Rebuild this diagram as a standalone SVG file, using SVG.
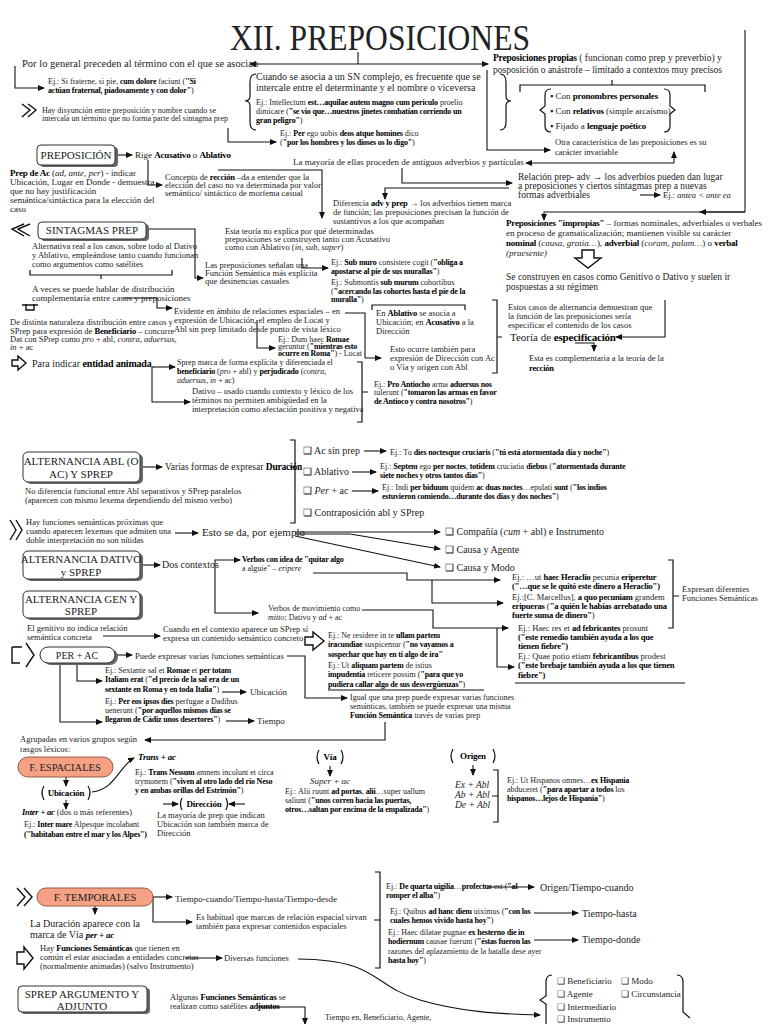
<svg xmlns="http://www.w3.org/2000/svg" width="768" height="1024" viewBox="0 0 768 1024">
<defs>
<marker id="a" markerWidth="7" markerHeight="6" refX="6" refY="3" orient="auto" markerUnits="userSpaceOnUse"><path d="M0,0 L7,3 L0,6 Z" fill="#111"/></marker>
<style>
text{font-family:'Liberation Serif','Times New Roman',serif;fill:#222}
.f8{font-size:8px}.f85{font-size:8.5px}.f9{font-size:9px}.f95{font-size:9.5px}.f10{font-size:10px}.f105{font-size:10.5px}.f11{font-size:11px}.f12{font-size:12px}
.b{font-weight:bold;fill:#000;letter-spacing:-0.2px}.i{font-style:italic}
.ln{fill:none;stroke:#111;stroke-width:1.1}
.ar{fill:none;stroke:#111;stroke-width:1.1;marker-end:url(#a)}
.br{fill:none;stroke:#111;stroke-width:1.2}
.bx{fill:#fff;stroke:#333;stroke-width:1}
.sh{fill:#666}
.pill{fill:#f4a184;stroke:#9a5a45;stroke-width:1}
.ic{fill:#fff;stroke:#111;stroke-width:1.4}
.c{text-anchor:middle}
</style>
</defs>
<rect width="768" height="1024" fill="#fff"/>

<g id="title"><text x="230" y="50" textLength="300" lengthAdjust="spacingAndGlyphs" style="font-size:36px">XII. PREPOSICIONES</text></g>

<g id="connectors">
<path class="ln" d="M358,52 V64"/>
<path class="ar" d="M358,64 H250"/>
<path class="ar" d="M358,64 H488"/>
<path class="ar" d="M15,66 V88 H44"/>
<path class="ar" d="M228,128 V142 H276"/>
<path class="ar" d="M487,70 V150 H550"/>
<path class="br" d="M520,92 V85 H705 V92 M612,85 V80"/>
<path class="ar" d="M115,155 H132"/>
<path class="ar" d="M148,160 V185 H162"/>
<path class="ar" d="M674,163 V152"/>
<path class="ar" d="M674,163 H526"/>
<path class="ar" d="M402,168 V183 H512"/>
<path class="ar" d="M509,188 H385 V199"/>
<path class="ar" d="M218,170 H322 V218"/>
<path class="ar" d="M640,195 H660"/>
<path class="ln" d="M745,30 V212"/>
<path class="ar" d="M745,212 H700"/>
<path class="ar" d="M745,212 H544 V220"/>
<path class="ar" d="M147,229 H195 V278 H203"/>
<path class="ar" d="M302,258 V268 H328"/>
<path class="br" d="M30,270 V275 H172 V270 M101,275 V279"/>
<path class="ar" d="M123,298 H157 V308 H172"/>
<path class="br" d="M372,310 V305 H465 V310"/>
<path class="ar" d="M257,320 V348 H275"/>
<path class="ar" d="M345,313 H365 V358 H381"/>
<path class="br" d="M492,300 H497 V373 H492 M497,337 H502"/>
<path class="ar" d="M665,300 V337 H616"/>
<path class="ar" d="M575,343 H594 V351"/>
<path class="ar" d="M152,367 V402 H190"/>
<path class="ar" d="M152,367 H175"/>
<path class="br" d="M357,362 H362 V422 H357 M362,392 H368"/>
<path class="ar" d="M140,467 H162"/>
<path class="br" d="M290,440 H295 V523 H290 M295,467 H290"/>
<path class="ar" d="M364,451 H386"/>
<path class="ar" d="M352,472 H376"/>
<path class="ar" d="M352,491 H378"/>
<path class="ar" d="M175,533 H198"/>
<path class="ar" d="M295,532 H440"/>
<path class="ar" d="M295,534 H350 L440,549"/>
<path class="ar" d="M295,536 L440,567"/>
<path class="ar" d="M140,565 H160"/>
<path class="ar" d="M215,565 V560 H240"/>
<path class="ar" d="M215,565 V613 H258"/>
<path class="ar" d="M313,573 H407 V580 H500"/>
<path class="ar" d="M432,580 V603 H503"/>
<path class="br" d="M668,560 H673 V628 H668 M673,596 H679"/>
<path class="ar" d="M362,610 H433 V628 H508"/>
<path class="ar" d="M497,628 V667 H514"/>
<path class="ln" d="M515,683 H685"/>
<path class="ar" d="M103,636 H160"/>
<path class="ln" d="M328,690 H484"/>
<path class="ar" d="M287,656 H305 V698 H347"/>
<path class="ar" d="M115,655 H132"/>
<path class="ar" d="M77,663 V681 H102"/>
<path class="ar" d="M60,663 V722 H102"/>
<path class="ar" d="M222,692 H246"/>
<path class="ar" d="M226,721 H254"/>
<path class="ar" d="M385,722 V740 H145"/>
<path class="ar" d="M92,792 C115,790 120,765 134,758"/>
<path class="ar" d="M66,777 V786"/>
<path class="ar" d="M66,800 V809"/>
<path class="ar" d="M163,804 H178"/>
<path class="ar" d="M245,804 H229"/>
<path class="ar" d="M330,766 V776"/>
<path class="ar" d="M473,765 V775"/>
<path class="br" d="M493,770 H498 V822 H493 M498,796 H492"/>
<path class="ar" d="M153,897 H172"/>
<path class="ar" d="M95,906 V914"/>
<path class="ar" d="M153,897 V922 H192"/>
<path class="br" d="M375,872 H380 V968 H375 M380,920 H374"/>
<path class="ar" d="M488,887 H534"/>
<path class="ar" d="M534,913 H578"/>
<path class="ar" d="M534,940 H578"/>
<path class="ar" d="M185,958 H222"/>
<path class="ar" d="M298,959 C380,960 370,985 420,1000 C460,1012 500,1014 540,1015"/>
<path class="ar" d="M258,1007 H305 V1024"/>
</g>

<g id="n-porlo"><text x="22" y="67" class="f105">Por lo general preceden al término con el que se asocian</text></g>
<g id="n-sifraterne"><text class="f8"><tspan x="48" y="84">Ej.: Si fraterne, si pie, <tspan class="b">cum dolore</tspan> faciunt (<tspan class="b">"Si</tspan></tspan><tspan x="48" y="93"><tspan class="b">actúan fraternal, piadosamente y con dolor"</tspan>)</tspan></text></g>
<g id="n-disyuncion">
<path class="ic" d="M22,104 L30,110 L22,117 M28,104 L36,110 L28,117"/>
<text class="f8"><tspan x="42" y="113">Hay disyunción entre preposición y nombre cuando se</tspan><tspan x="42" y="121">intercala un término que no forma parte del sintagma prep</tspan></text></g>
<g id="n-cuando">
<path class="br" d="M256,74 Q250,74 250,82 V96 Q250,101 245,101 Q250,101 250,106 V122 Q250,130 256,130"/>
<path class="br" d="M500,74 Q506,74 506,82 V96 Q506,101 511,101 Q506,101 506,106 V122 Q506,130 500,130"/>
<text class="f10"><tspan x="256" y="80">Cuando se asocia a un SN complejo, es frecuente que se</tspan><tspan x="256" y="91">intercale entre el determinante y el nombre o viceversa</tspan></text>
<text class="f8"><tspan x="256" y="105">Ej.: Intellectum <tspan class="b">est…aquilae autem magno cum periculo</tspan> proelio</tspan><tspan x="256" y="114">dimicare (<tspan class="b">"se vio que…nuestros jinetes combatían corriendo un</tspan></tspan><tspan x="256" y="123" class="b">gran peligro"</tspan><tspan>)</tspan></text></g>
<g id="n-perego"><text class="f8"><tspan x="280" y="136">Ej.: <tspan class="b">Per</tspan> ego uobis <tspan class="b">deos atque homines</tspan> dico</tspan><tspan x="280" y="145">(<tspan class="b">"por los hombres y los dioses os lo digo"</tspan>)</tspan></text></g>
<g id="n-propias"><text class="f95"><tspan x="493" y="61"><tspan class="b">Preposiciones propias</tspan> ( funcionan como prep y preverbio) y</tspan><tspan x="493" y="73">posposición o anástrofe – limitado a contextos muy precisos</tspan></text></g>
<g id="n-lista">
<path class="br" d="M551,89 Q545,89 545,95 V106 L540,110 L545,114 V126 Q545,132 551,132"/>
<path class="br" d="M664,89 Q670,89 670,95 V106 L675,110 L670,114 V126 Q670,132 664,132"/>
<text class="f9"><tspan x="550" y="99">▪ Con <tspan class="b">pronombres personales</tspan></tspan><tspan x="550" y="114">▪ Con <tspan class="b">relativos</tspan> (simple arcaísmo)</tspan><tspan x="550" y="129">▪ Fijado a <tspan class="b">lenguaje poético</tspan></tspan></text></g>
<g id="n-otra"><text class="f85"><tspan x="555" y="145">Otra característica de las preposiciones es su</tspan><tspan x="555" y="155">carácter invariable</tspan></text></g>

<g id="n-preposicion"><rect class="sh" x="40" y="147" width="78" height="20" rx="4"/><rect class="bx" x="37" y="145" width="78" height="20" rx="4"/><text x="76" y="159" class="f11 c">PREPOSICIÓN</text></g>
<g id="n-rige"><text x="135" y="158" class="f9">Rige <tspan class="b">Acusativo</tspan> o <tspan class="b">Ablativo</tspan></text></g>
<g id="n-prepac"><text class="f9"><tspan x="10" y="176"><tspan class="b">Prep de Ac</tspan> (<tspan class="i">ad, ante, per</tspan>) - indicar</tspan><tspan x="10" y="185">Ubicación, Lugar en Donde - demuestra</tspan><tspan x="10" y="194">que no hay justificación</tspan><tspan x="10" y="203">semántica/sintáctica para la elección del</tspan><tspan x="10" y="212">caso</tspan></text></g>
<g id="n-concepto"><text class="f85"><tspan x="165" y="180">Concepto de <tspan class="b">rección</tspan> –da a entender que la</tspan><tspan x="165" y="188">elección del caso no va determinada por valor</tspan><tspan x="165" y="196">semántico/ sintáctico de morfema casual</tspan></text></g>
<g id="n-mayoria"><text x="293" y="165" class="f9">La mayoría de ellas proceden de antiguos adverbios y partículas</text></g>
<g id="n-relacion"><text class="f95"><tspan x="518" y="180">Relación prep- adv → los adverbios pueden dan lugar</tspan><tspan x="518" y="189">a preposiciones  y ciertos sintagmas prep a nuevas</tspan><tspan x="518" y="198">formas adverbiales</tspan><tspan x="663" y="198" class="f85">Ej.: <tspan class="i">antea &lt; ante ea</tspan></tspan></text></g>
<g id="n-diferencia"><text class="f85"><tspan x="333" y="206">Diferencia <tspan class="b">adv y prep</tspan> → los adverbios tienen marca</tspan><tspan x="333" y="215">de función; las preposiciones precisan la función de</tspan><tspan x="333" y="224">sustantivos a los que acompañan</tspan></text></g>
<g id="n-impropias"><text class="f9"><tspan x="506" y="226"><tspan class="b">Preposiciones "impropias"</tspan> – formas nominales, adverbiales o verbales</tspan><tspan x="506" y="236">en proceso de gramaticalización; mantienen visible su carácter</tspan><tspan x="506" y="246"><tspan class="b">nominal</tspan> (<tspan class="i">causa, gratia…</tspan>), <tspan class="b">adverbial</tspan> (<tspan class="i">coram, palam…</tspan>) o <tspan class="b">verbal</tspan></tspan><tspan x="506" y="256" class="i">(praesente)</tspan></text>
<path class="ic" d="M582,250 H594 V258 H601 L588,268 L575,258 H582 Z"/></g>
<g id="n-construyen"><text class="f95"><tspan x="506" y="280">Se construyen en casos como Genitivo o Dativo y suelen ir</tspan><tspan x="506" y="290">pospuestas a su régimen</tspan></text></g>
<g id="n-estateoria"><text class="f85"><tspan x="225" y="234">Esta teoría no explica por qué determinadas</tspan><tspan x="225" y="242">preposiciones se construyen tanto con Acusativo</tspan><tspan x="225" y="250">como con Ablativo (<tspan class="i">in, sub, super</tspan>)</tspan></text></g>
<g id="n-sintagmas"><path class="ic" d="M24,224 L12,229 L24,236 M30,224 L18,229 L30,236"/><rect class="sh" x="41" y="224" width="108" height="17" rx="4"/><rect class="bx" x="38" y="222" width="108" height="17" rx="4"/><text x="92" y="234" class="f11 c">SINTAGMAS PREP</text></g>
<g id="n-alternativa"><text class="f85"><tspan x="32" y="249">Alternativa real a los casos, sobre todo al Dativo</tspan><tspan x="32" y="258">y Ablativo, empleándose tanto cuando funcionan</tspan><tspan x="32" y="267">como argumentos como satélites</tspan></text></g>
<g id="n-señalan"><text class="f85"><tspan x="205" y="268">Las preposiciones señalan una</tspan><tspan x="205" y="276">Función Semántica más explícita</tspan><tspan x="205" y="284">que desinencias casuales</tspan></text></g>
<g id="n-submuro"><text class="f8"><tspan x="331" y="265">Ej.: <tspan class="b">Sub muro</tspan> consistere cogit (<tspan class="b">"obliga a</tspan></tspan><tspan x="331" y="274" class="b">apostarse al pie de sus murallas"</tspan><tspan>)</tspan><tspan x="331" y="285">Ej.: Submontis <tspan class="b">sub murum</tspan> cohortibus</tspan><tspan x="331" y="294">(<tspan class="b">"acercando las cohortes hasta el pie de la</tspan></tspan><tspan x="331" y="302"><tspan class="b">muralla"</tspan>)</tspan></text></g>
<g id="n-aveces"><text class="f9"><tspan x="32" y="292">A veces se puede hablar de distribución</tspan><tspan x="32" y="301">complementaria entre casos y preposiciones</tspan></text>
<path class="ic" d="M22,305 H38 M26,304 V310 H34 V304"/></g>
<g id="n-distinta"><text class="f85"><tspan x="10" y="325">De distinta naturaleza distribución entre casos y</tspan><tspan x="10" y="334">SPrep para expresión de <tspan class="b">Beneficiario</tspan> – concurre</tspan><tspan x="10" y="342">Dat con SPrep como <tspan class="i">pro</tspan> + abl, <tspan class="i">contra, aduersus,</tspan></tspan><tspan x="10" y="350"><tspan class="i">in</tspan> + ac</tspan></text></g>
<g id="n-evidente"><text class="f85"><tspan x="174" y="314">Evidente en ámbito de relaciones espaciales – en</tspan><tspan x="174" y="323">expresión de Ubicación, el empleo de Locat  y</tspan><tspan x="174" y="332">Abl sin prep limitado desde punto de vista léxico</tspan></text></g>
<g id="n-ablativo"><text class="f85"><tspan x="376" y="316">En <tspan class="b">Ablativo</tspan> se asocia a</tspan><tspan x="376" y="325">Ubicación; en <tspan class="b">Acusativo</tspan> a la</tspan><tspan x="376" y="334">Dirección</tspan></text></g>
<g id="n-dumhaec"><text class="f8"><tspan x="278" y="342">Ej.: Dum haec <tspan class="b">Romae</tspan></tspan><tspan x="278" y="349">geruntur (<tspan class="b">"mientras esto</tspan></tspan><tspan x="278" y="356"><tspan class="b">ocurre en Roma"</tspan>) - Locat</tspan></text></g>
<g id="n-ocurre"><text class="f85"><tspan x="390" y="352">Esto ocurre también para</tspan><tspan x="390" y="361">expresión de Dirección con Ac</tspan><tspan x="390" y="370">o Vía y origen con Abl</tspan></text></g>
<g id="n-estoscasos"><text class="f85"><tspan x="508" y="310">Estos casos de alternancia demuestran que</tspan><tspan x="508" y="319">la función de las preposiciones sería</tspan><tspan x="508" y="328">especificar el contenido de los casos</tspan></text></g>
<g id="n-teoria"><text x="510" y="341" class="f11">Teoría de <tspan class="b">especificación</tspan></text></g>
<g id="n-complementaria"><text class="f85"><tspan x="529" y="361">Esta es complementaria a la teoría de la</tspan><tspan x="529" y="371" class="b">rección</tspan></text></g>
<g id="n-animada"><path class="ic" d="M12,360 H18 V356 L26,363 L18,370 V366 H12 Z"/><text x="32" y="367" class="f10">Para indicar <tspan class="b">entidad animada</tspan></text></g>
<g id="n-sprepmarca"><text class="f8"><tspan x="177" y="365">Sprep marca de forma explícita y diferenciada el</tspan><tspan x="177" y="374"><tspan class="b">beneficiario</tspan> (<tspan class="i">pro</tspan> + abl) y <tspan class="b">perjudicado</tspan> (<tspan class="i">contra,</tspan></tspan><tspan x="177" y="383"><tspan class="i">aduersus, in</tspan> + ac)</tspan></text></g>
<g id="n-dativo"><text class="f85"><tspan x="192" y="394">Dativo – usado cuando contexto y léxico de los</tspan><tspan x="192" y="403">términos no permiten ambigüedad en la</tspan><tspan x="192" y="412">interpretación como afectación positiva y negativa</tspan></text></g>
<g id="n-antiocho"><text class="f8"><tspan x="374" y="387">Ej.: <tspan class="b">Pro Antiocho</tspan> arma <tspan class="b">aduersus nos</tspan></tspan><tspan x="374" y="395">tulerunt (<tspan class="b">"tomaron las armas en favor</tspan></tspan><tspan x="374" y="404"><tspan class="b">de Antioco y contra nosotros"</tspan>)</tspan></text></g>

<g id="n-altabl"><rect class="sh" x="26" y="454" width="117" height="30" rx="5"/><rect class="bx" x="23" y="452" width="117" height="30" rx="5"/><text class="f11 c"><tspan x="81" y="465">ALTERNANCIA ABL (O</tspan><tspan x="81" y="478">AC) Y SPREP</tspan></text></g>
<g id="n-duracion"><text x="165" y="470" class="f95">Varias formas de expresar <tspan class="b">Duración</tspan></text></g>
<g id="n-nodif"><text class="f85"><tspan x="25" y="494">No diferencia funcional entre Abl separativos y SPrep paralelos</tspan><tspan x="25" y="503">(aparecen con mismo lexema dependiendo del mismo verbo)</tspan></text></g>
<g id="n-acsin"><text x="303" y="454" class="f10">❑ Ac sin prep</text><text x="390" y="455" class="f8">Ej.: Tu <tspan class="b">dies noctesque cruciaris</tspan> (<tspan class="b">"tú está atormentada día y noche"</tspan>)</text></g>
<g id="n-ablat"><text x="303" y="475" class="f10">❑ Ablativo</text><text class="f8"><tspan x="380" y="469">Ej.: <tspan class="b">Septem</tspan> ego <tspan class="b">per noctes</tspan>, <tspan class="b">totidem</tspan> cruciatia <tspan class="b">diebus</tspan> (<tspan class="b">"atormentada durante</tspan></tspan><tspan x="380" y="478" class="b">siete noches y otros tantos días"</tspan><tspan>)</tspan></text></g>
<g id="n-perac"><text x="303" y="494" class="f10">❑ <tspan class="i">Per</tspan> + ac</text><text class="f8"><tspan x="382" y="490">Ej.: Indi <tspan class="b">per biduum</tspan> quidem <tspan class="b">ac duas noctes</tspan>…epulati <tspan class="b">sunt</tspan> (<tspan class="b">"los indios</tspan></tspan><tspan x="382" y="499" class="b">estuvieron comiendo…durante dos días y dos noches"</tspan><tspan>)</tspan></text></g>
<g id="n-contrap"><text x="303" y="516" class="f10">❑ Contraposición abl y SPrep</text></g>
<g id="n-hayfunc"><path class="ic" d="M10,520 L16,530 L10,540 M16,520 L22,530 L16,540"/><text class="f85"><tspan x="26" y="525">Hay funciones semánticas próximas que</tspan><tspan x="26" y="534">cuando aparecen lexemas que admiten una</tspan><tspan x="26" y="543">doble interpretación no son nítidas</tspan></text></g>
<g id="n-estoseda"><text x="202" y="536" class="f11">Esto se da, por ejemplo</text></g>
<g id="n-compania"><text x="445" y="535" class="f10">❑ Compañía (<tspan class="i">cum</tspan> + abl) e Instrumento</text></g>
<g id="n-causaag"><text x="445" y="553" class="f10">❑ Causa y Agente</text></g>
<g id="n-causamodo"><text x="445" y="571" class="f10">❑ Causa y Modo</text></g>
<g id="n-altdat"><rect class="sh" x="26" y="553" width="117" height="28" rx="5"/><rect class="bx" x="23" y="551" width="117" height="28" rx="5"/><text class="f11 c"><tspan x="81" y="563">ALTERNANCIA DATIVO</tspan><tspan x="81" y="576">y SPREP</tspan></text></g>
<g id="n-dos"><text x="162" y="568" class="f10">Dos contextos</text></g>
<g id="n-quitar"><text class="f8"><tspan x="242" y="562" class="b">Verbos con idea de "quitar algo</tspan><tspan x="242" y="571">a alguie" – <tspan class="i">eripere</tspan></tspan></text></g>
<g id="n-mov"><text class="f8"><tspan x="268" y="611">Verbos de movimiento como</tspan><tspan x="268" y="620"><tspan class="i">mitto</tspan>; Dativo y <tspan class="i">ad</tspan> + ac</tspan></text></g>
<g id="n-heraclio"><text class="f85"><tspan x="512" y="580">Ej.: …ut <tspan class="b">haec Heraclio</tspan> pecunia <tspan class="b">eriperetur</tspan></tspan><tspan x="512" y="589" class="b">("…que se le quitó este dinero a Heraclio")</tspan></text></g>
<g id="n-marcellus"><text class="f85"><tspan x="512" y="600">Ej.:[C. Marcellus], <tspan class="b">a quo pecuniam</tspan> grandem</tspan><tspan x="512" y="609"><tspan class="b">eripueras</tspan> (<tspan class="b">"a quién le habías arrebatado una</tspan></tspan><tspan x="512" y="618" class="b">fuerte suma de dinero"</tspan><tspan>)</tspan></text></g>
<g id="n-expresan"><text class="f85"><tspan x="682" y="592">Expresan diferentes</tspan><tspan x="682" y="601">Funciones Semánticas</tspan></text></g>
<g id="n-febric1"><text class="f85"><tspan x="518" y="631">Ej.: Haec res et <tspan class="b">ad febricantes</tspan> prosunt</tspan><tspan x="518" y="640" class="b">("este remedio también ayuda a los que</tspan><tspan x="518" y="649" class="b">tienen fiebre")</tspan></text></g>
<g id="n-febric2"><text class="f85"><tspan x="518" y="659">Ej.: Quae potio etiam <tspan class="b">febricantibus</tspan> prodest</tspan><tspan x="518" y="668" class="b">("este brebaje también ayuda a los que tienen</tspan><tspan x="518" y="678" class="b">fiebre")</tspan></text></g>
<g id="n-altgen"><rect class="sh" x="26" y="593" width="117" height="27" rx="5"/><rect class="bx" x="23" y="591" width="117" height="27" rx="5"/><text class="f11 c"><tspan x="81" y="603">ALTERNANCIA GEN Y</tspan><tspan x="81" y="615">SPREP</tspan></text></g>
<g id="n-genitivo"><text class="f85"><tspan x="27" y="631">El genitivo no indica relación</tspan><tspan x="27" y="640">semántica concreta</tspan></text></g>
<g id="n-contexto"><text class="f85"><tspan x="163" y="632">Cuando en el contexto aparece un SPrep sí</tspan><tspan x="163" y="641">expresa un contenido semántico concreto</tspan></text><path class="ic" d="M305,637 H313 V632 L324,641 L313,650 V645 H305 Z"/></g>
<g id="n-residere"><text class="f8"><tspan x="328" y="638">Ej.: Ne residere in te <tspan class="b">ullam partem</tspan></tspan><tspan x="328" y="647"><tspan class="b">iracundiae</tspan> suspicemur (<tspan class="b">"no vayamos a</tspan></tspan><tspan x="328" y="657" class="b">sospechar que hay en ti algo de ira"</tspan><tspan x="328" y="668">Ej.: Ut <tspan class="b">aliquam partem</tspan> de istius</tspan><tspan x="328" y="677"><tspan class="b">impudentia</tspan> reticere possim (<tspan class="b">"para que yo</tspan></tspan><tspan x="328" y="687"><tspan class="b">pudiera callar algo de sus desvergüenzas"</tspan>)</tspan></text></g>
<g id="n-perac2"><path class="ic" d="M12,647 H22 M12,647 V663 H20 M26,643 L34,655 L26,667"/><rect class="sh" x="43" y="649" width="75" height="16" rx="8"/><rect class="bx" x="40" y="647" width="75" height="16" rx="8"/><text x="77" y="659" class="f10 c">PER + AC</text></g>
<g id="n-puede"><text x="135" y="659" class="f85">Puede expresar varias funciones semánticas</text></g>
<g id="n-igual"><text class="f8"><tspan x="350" y="700">Igual que una prep puede expresar varias funciones</tspan><tspan x="350" y="709">semánticas, también se puede expresar una misma</tspan><tspan x="350" y="718"><tspan class="b">Función Semántica</tspan> través de varias prep</tspan></text></g>
<g id="n-sextante"><text class="f8"><tspan x="105" y="673">Ej.: Sextante sal et <tspan class="b">Romae</tspan> et <tspan class="b">per totam</tspan></tspan><tspan x="105" y="682"><tspan class="b">Italiam erat</tspan> (<tspan class="b">"el precio de la sal era de un</tspan></tspan><tspan x="105" y="692"><tspan class="b">sextante en Roma y en toda Italia"</tspan>)</tspan></text><text x="250" y="695" class="f9">Ubicación</text></g>
<g id="n-dadibus"><text class="f8"><tspan x="105" y="704">Ej.: <tspan class="b">Per eos ipsos dies</tspan> perfugae a Dadibus</tspan><tspan x="105" y="713">uenerunt (<tspan class="b">"por aquellos mismos días se</tspan></tspan><tspan x="105" y="722"><tspan class="b">llegaron de Cádiz unos desertores"</tspan>)</tspan></text><text x="257" y="724" class="f9">Tiempo</text></g>
<g id="n-agrupadas"><text class="f85"><tspan x="20" y="742">Agrupadas en varios grupos según</tspan><tspan x="20" y="752">rasgos léxicos:</tspan></text></g>

<g id="n-fesp"><rect class="pill" x="18" y="757" width="95" height="20" rx="10"/><text x="65" y="771" class="f105 c">F. ESPACIALES</text></g>
<g id="n-trans"><text x="138" y="760" class="f9 b i">Trans + ac</text><text class="f8"><tspan x="135" y="775">Ej.: <tspan class="b">Trans Nessum</tspan> amnem incolunt et circa</tspan><tspan x="135" y="784">trymonem (<tspan class="b">"viven al otro lado del río Neso</tspan></tspan><tspan x="135" y="793" class="b">y en ambas orillas del Estrimón"</tspan><tspan>)</tspan></text></g>
<g id="n-ubic"><path class="br" d="M44,786 Q40,792 44,800 M88,786 Q92,792 88,800"/><text x="66" y="796" class="f9 b c">Ubicación</text></g>
<g id="n-inter"><text x="22" y="815" class="f85"><tspan class="b i">Inter + ac</tspan> (dos o más referentes)</text><text class="f8"><tspan x="24" y="827">Ej.: <tspan class="b">Inter mare</tspan> Alpesque incolabant</tspan><tspan x="24" y="837" class="b">("habitaban entre el mar y los Alpes")</tspan></text></g>
<g id="n-direccion"><path class="br" d="M182,798 Q179,804 182,810 M226,798 Q229,804 226,810"/><text x="204" y="807" class="f9 b c">Dirección</text><text class="f85"><tspan x="157" y="818">La mayoría de prep que indican</tspan><tspan x="157" y="827">Ubicación son también marca de</tspan><tspan x="157" y="836">Dirección</tspan></text></g>
<g id="n-via"><path class="br" d="M319,750 Q315,757 319,764 M341,750 Q345,757 341,764"/><text x="330" y="760" class="f9 b c">Vía</text><text x="310" y="784" class="f9 i">Super + ac</text><text class="f8"><tspan x="285" y="794">Ej.: Alii ruunt <tspan class="b">ad portas</tspan>, <tspan class="b">alii</tspan>…super uallum</tspan><tspan x="285" y="803">saliunt (<tspan class="b">"unos corren hacia las puertas,</tspan></tspan><tspan x="285" y="812" class="b">otros…saltan por encima de la empalizada"</tspan><tspan>)</tspan></text></g>
<g id="n-origen"><path class="br" d="M453,749 Q449,756 453,763 M493,749 Q497,756 493,763"/><text x="473" y="759" class="f9 b c">Origen</text><text class="f95 i"><tspan x="455" y="788">Ex + Abl</tspan><tspan x="455" y="798">Ab + Abl</tspan><tspan x="455" y="808">De + Abl</tspan></text><text class="f8"><tspan x="507" y="783">Ej.: Ut Hispanos omnes…<tspan class="b">ex Hispania</tspan></tspan><tspan x="507" y="792">abduceret (<tspan class="b">"para apartar a todos</tspan> los</tspan><tspan x="507" y="801"><tspan class="b">hispanos…lejos de Hispania"</tspan>)</tspan></text></g>

<g id="n-ftemp"><path class="ic" d="M17,888 L25,897 L17,906 M24,888 L32,897 L24,906"/><rect class="pill" x="37" y="888" width="116" height="18" rx="9"/><text x="95" y="901" class="f11 c">F. TEMPORALES</text></g>
<g id="n-tcuando"><text x="175" y="902" class="f9">Tiempo-cuando/Tiempo-hasta/Tiempo-desde</text></g>
<g id="n-duracion2"><text class="f10"><tspan x="30" y="927">La Duración aparece con la</tspan><tspan x="30" y="938">marca de Vía <tspan class="b i f9">per + ac</tspan></tspan></text></g>
<g id="n-habitual"><text class="f85"><tspan x="196" y="920">Es habitual que marcas de relación espacial sirvan</tspan><tspan x="196" y="929">también para expresar contenidos espaciales</tspan></text></g>
<g id="n-quarta"><text class="f8"><tspan x="386" y="889">Ej.: <tspan class="b">De quarta uigilia</tspan>…<tspan class="b">profectus</tspan> est (<tspan class="b">"al</tspan></tspan><tspan x="386" y="898" class="b">romper el alba"</tspan><tspan>)</tspan></text><text x="540" y="891" class="f10">Origen/Tiempo-cuando</text></g>
<g id="n-quibus"><text class="f8"><tspan x="390" y="914">Ej.: Quibus <tspan class="b">ad hanc diem</tspan> uiximus (<tspan class="b">"con los</tspan></tspan><tspan x="390" y="923" class="b">cuales hemos vivido hasta hoy"</tspan><tspan>)</tspan></text><text x="582" y="917" class="f10">Tiempo-hasta</text></g>
<g id="n-haec"><text class="f8"><tspan x="388" y="935">Ej.: Haec dilatae pugnae <tspan class="b">ex hesterno die in</tspan></tspan><tspan x="388" y="944"><tspan class="b">hodiernum</tspan> causae fuerunt (<tspan class="b">"éstas fueron las</tspan></tspan><tspan x="388" y="954">razones del aplazamiento de la batalla dese ayer</tspan><tspan x="388" y="963"><tspan class="b">hasta hoy"</tspan>)</tspan></text><text x="582" y="943" class="f10">Tiempo-donde</text></g>
<g id="n-concretas"><path class="ic" d="M17,952 H24 V947 L33,958 L24,969 V964 H17 Z"/><text class="f85"><tspan x="40" y="951">Hay <tspan class="b">Funciones Semánticas</tspan> que tienen en</tspan><tspan x="40" y="960">común el estar asociadas a entidades concretas</tspan><tspan x="40" y="969">(normalmente animadas) (salvo Instrumento)</tspan></text><text x="224" y="961" class="f85">Diversas funciones</text></g>
<g id="n-lista2"><path class="br" d="M552,975 Q546,975 546,982 V996 L540,1000 L546,1004 V1024"/><path class="br" d="M677,975 Q683,975 683,982 V1012 L690,1018"/>
<text class="f9"><tspan x="557" y="984">❑ Beneficiario</tspan><tspan x="621" y="984">❑ Modo</tspan><tspan x="557" y="997">❑ Agente</tspan><tspan x="621" y="997">❑ Circunstancia</tspan><tspan x="557" y="1010">❑ Intermediario</tspan><tspan x="557" y="1022">❑ Instrumento</tspan></text></g>
<g id="n-sprepadj"><rect class="sh" x="21" y="988" width="129" height="26" rx="4"/><rect class="bx" x="18" y="986" width="129" height="26" rx="4"/><text class="f11 c"><tspan x="82" y="998">SPREP ARGUMENTO Y</tspan><tspan x="82" y="1010">ADJUNTO</tspan></text></g>
<g id="n-algunas"><text class="f85"><tspan x="170" y="1000">Algunas <tspan class="b">Funciones Semánticas</tspan> se</tspan><tspan x="170" y="1009">realizan como satélites <tspan class="b">adjuntos</tspan></tspan></text></g>
<g id="n-tiempoen"><text x="325" y="1020" class="f8">Tiempo en, Beneficiario, Agente,</text></g>
</svg>
